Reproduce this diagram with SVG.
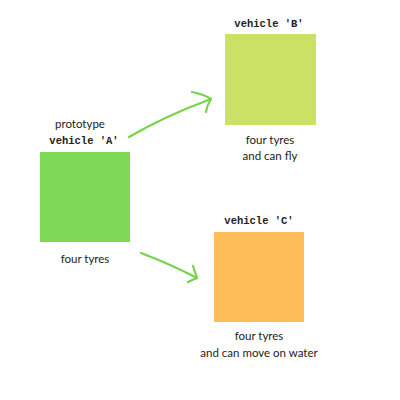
<svg xmlns="http://www.w3.org/2000/svg" width="400" height="400" viewBox="0 0 400 400">
<style>
.t{font-family:Lato,"Noto Sans",sans-serif;font-size:11.5px;fill:#222;text-anchor:middle}
.m{font-family:"Liberation Mono","DejaVu Sans Mono",monospace;font-size:10.5px;font-weight:bold;fill:#222;text-anchor:middle}
.c{fill:none;stroke:#77d34a;stroke-width:2.2;stroke-linecap:round;stroke-linejoin:round}
</style>
<rect width="400" height="400" fill="#fff"/>
<g id="nodeA">
<text class="t" x="80" y="128">prototype</text>
<text class="m" x="84" y="144">vehicle 'A'</text>
<rect x="40" y="152" width="90" height="90" fill="#7ed957"/>
<text class="t" x="85" y="263">four tyres</text>
</g>
<g id="nodeB">
<text class="m" x="269" y="27">vehicle 'B'</text>
<rect x="225" y="34" width="91" height="91" fill="#c9e265"/>
<text class="t" x="270" y="144">four tyres</text>
<text class="t" x="270" y="160">and can fly</text>
</g>
<g id="nodeC">
<text class="m" x="259" y="224">vehicle 'C'</text>
<rect x="214" y="232" width="90" height="90" fill="#ffbd59"/>
<text class="t" x="259" y="340">four tyres</text>
<text class="t" x="259" y="357">and can move on water</text>
</g>
<g id="connectors">
<path class="c" d="M129 137 Q165 116 211 99"/>
<path class="c" d="M192 92 Q203 94 211 99 Q207 105 206 112"/>
<path class="c" d="M141 253 Q170 264 197 278"/>
<path class="c" d="M193 266 Q195 272 197 278 Q192 280 188 282"/>
</g>
</svg>
